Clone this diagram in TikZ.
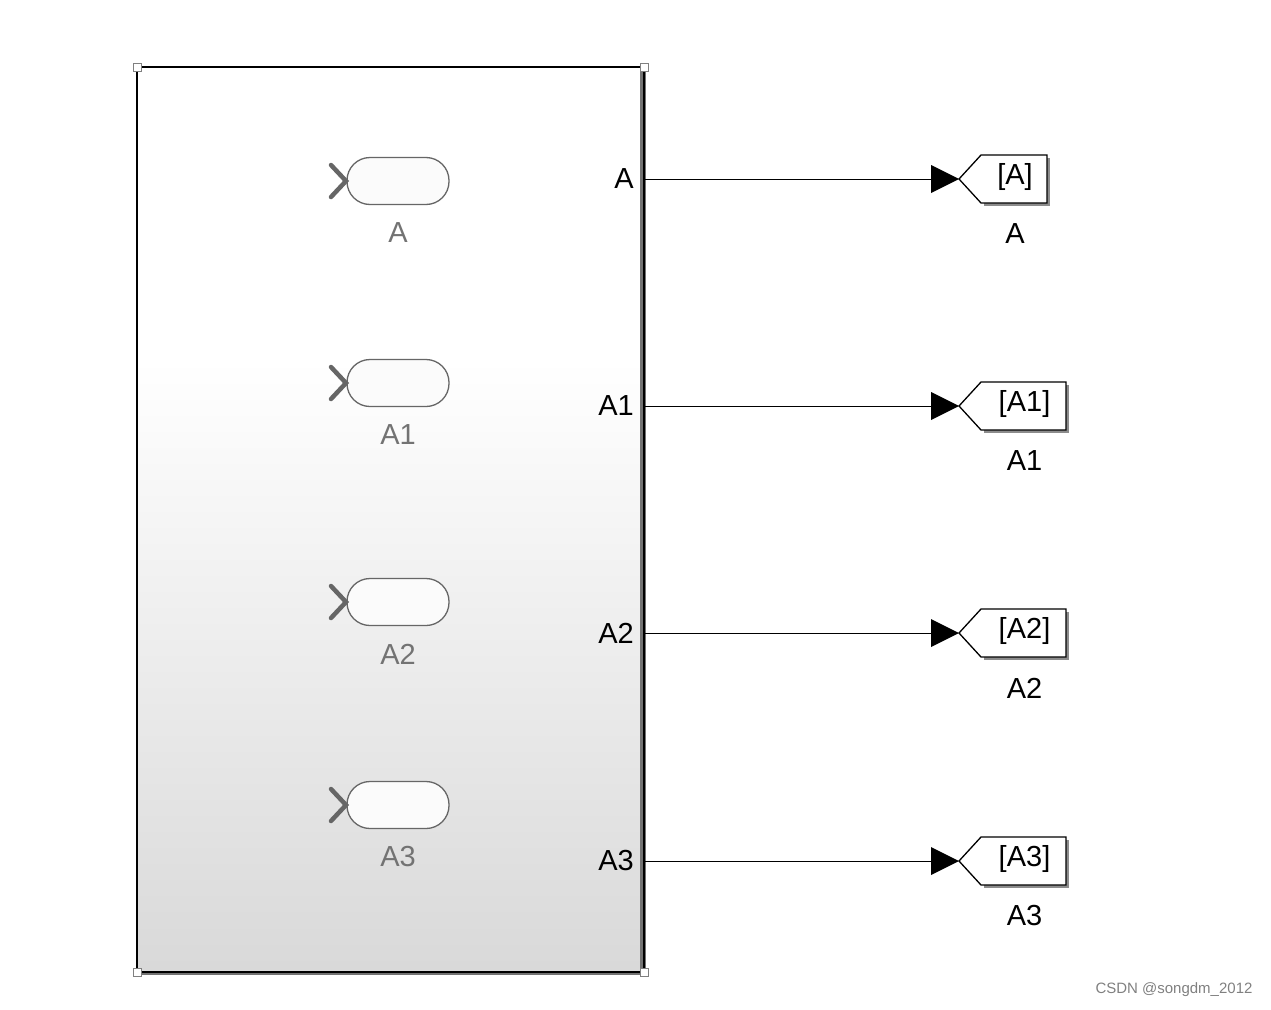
\documentclass[tikz,border=0pt]{standalone}
\usepackage{fontspec}
\setmainfont{Liberation Sans}
\begin{document}
\begin{tikzpicture}[x=1pt,y=-1pt,
  lbl/.style={font=\fontsize{29}{30}\selectfont,inner sep=0pt},
  glbl/.style={lbl,text=black!55},
  inport/.style={draw=black!60,line width=1.3pt,rounded corners=23pt,fill=white!50!black!3,minimum width=102pt,minimum height=47pt,inner sep=0pt},
  chev/.style={draw=black!60,line width=4.5pt,line cap=round},
  handle/.style={draw=black!50,fill=white,line width=0.6pt,minimum size=8pt,inner sep=0pt},
  sig/.style={line width=0.8pt}]
\useasboundingbox (0,0) rectangle (1271,1009);
% subsystem box
\fill[white] (137,67) rectangle (644,360);
\shade[top color=white,bottom color=black!15] (137,360) rectangle (644,972);
\fill[black!55] (640,71) rectangle (646,975);
\fill[black!55] (141,972) rectangle (646,975);
\draw[line width=1.4pt] (137,67) rectangle (644,972);
\node[handle] (h1) at (137,67) {};
\node[handle] (h2) at (644,67) {};
\node[handle] (h3) at (137,972) {};
\node[handle] (h4) at (644,972) {};
% inports
\foreach \n/\y/\t in {i0/181/A,i1/383/A1,i2/602/A2,i3/805/A3}{
  \node[inport] (\n) at (398,\y) {};
  \draw[chev] (331,\y-16) -- (346,\y) -- (331,\y+16);
  \node[glbl] at (398,\y+52) {\t};
}
% outputs
\foreach \n/\y/\t/\w in {o0/179/A/88,o1/406/A1/107,o2/633/A2/107,o3/861/A3/107}{
  \node[lbl,anchor=east] (\n) at (634,\y) {\t};
  \coordinate (s\n) at (645,\y);
  \coordinate (g\n) at (959,\y);
  \fill[black!45] (981+3,\y-24+3) -- (959+\w+3,\y-24+3) -- (959+\w+3,\y+24+3) -- (981+3,\y+24+3) -- cycle;
  \draw[fill=white,line width=1.3pt] (959,\y) -- (981,\y-24) -- (959+\w,\y-24) -- (959+\w,\y+24) -- (981,\y+24) -- cycle;
  \node[lbl] (t\n) at (981+\w/2-11+1,\y-2) {[\t]};
  \node[lbl] at (981+\w/2-11+1,\y+55) {\t};
  \draw[sig] (s\n) -- (931,\y);
  \fill (931,\y-14) -- (g\n) -- (931,\y+14) -- cycle;
}
\node[font=\fontsize{15}{16}\selectfont,text=black!50,anchor=east] (wm) at (1256,990) {CSDN @songdm\_2012};
\end{tikzpicture}
\end{document}
